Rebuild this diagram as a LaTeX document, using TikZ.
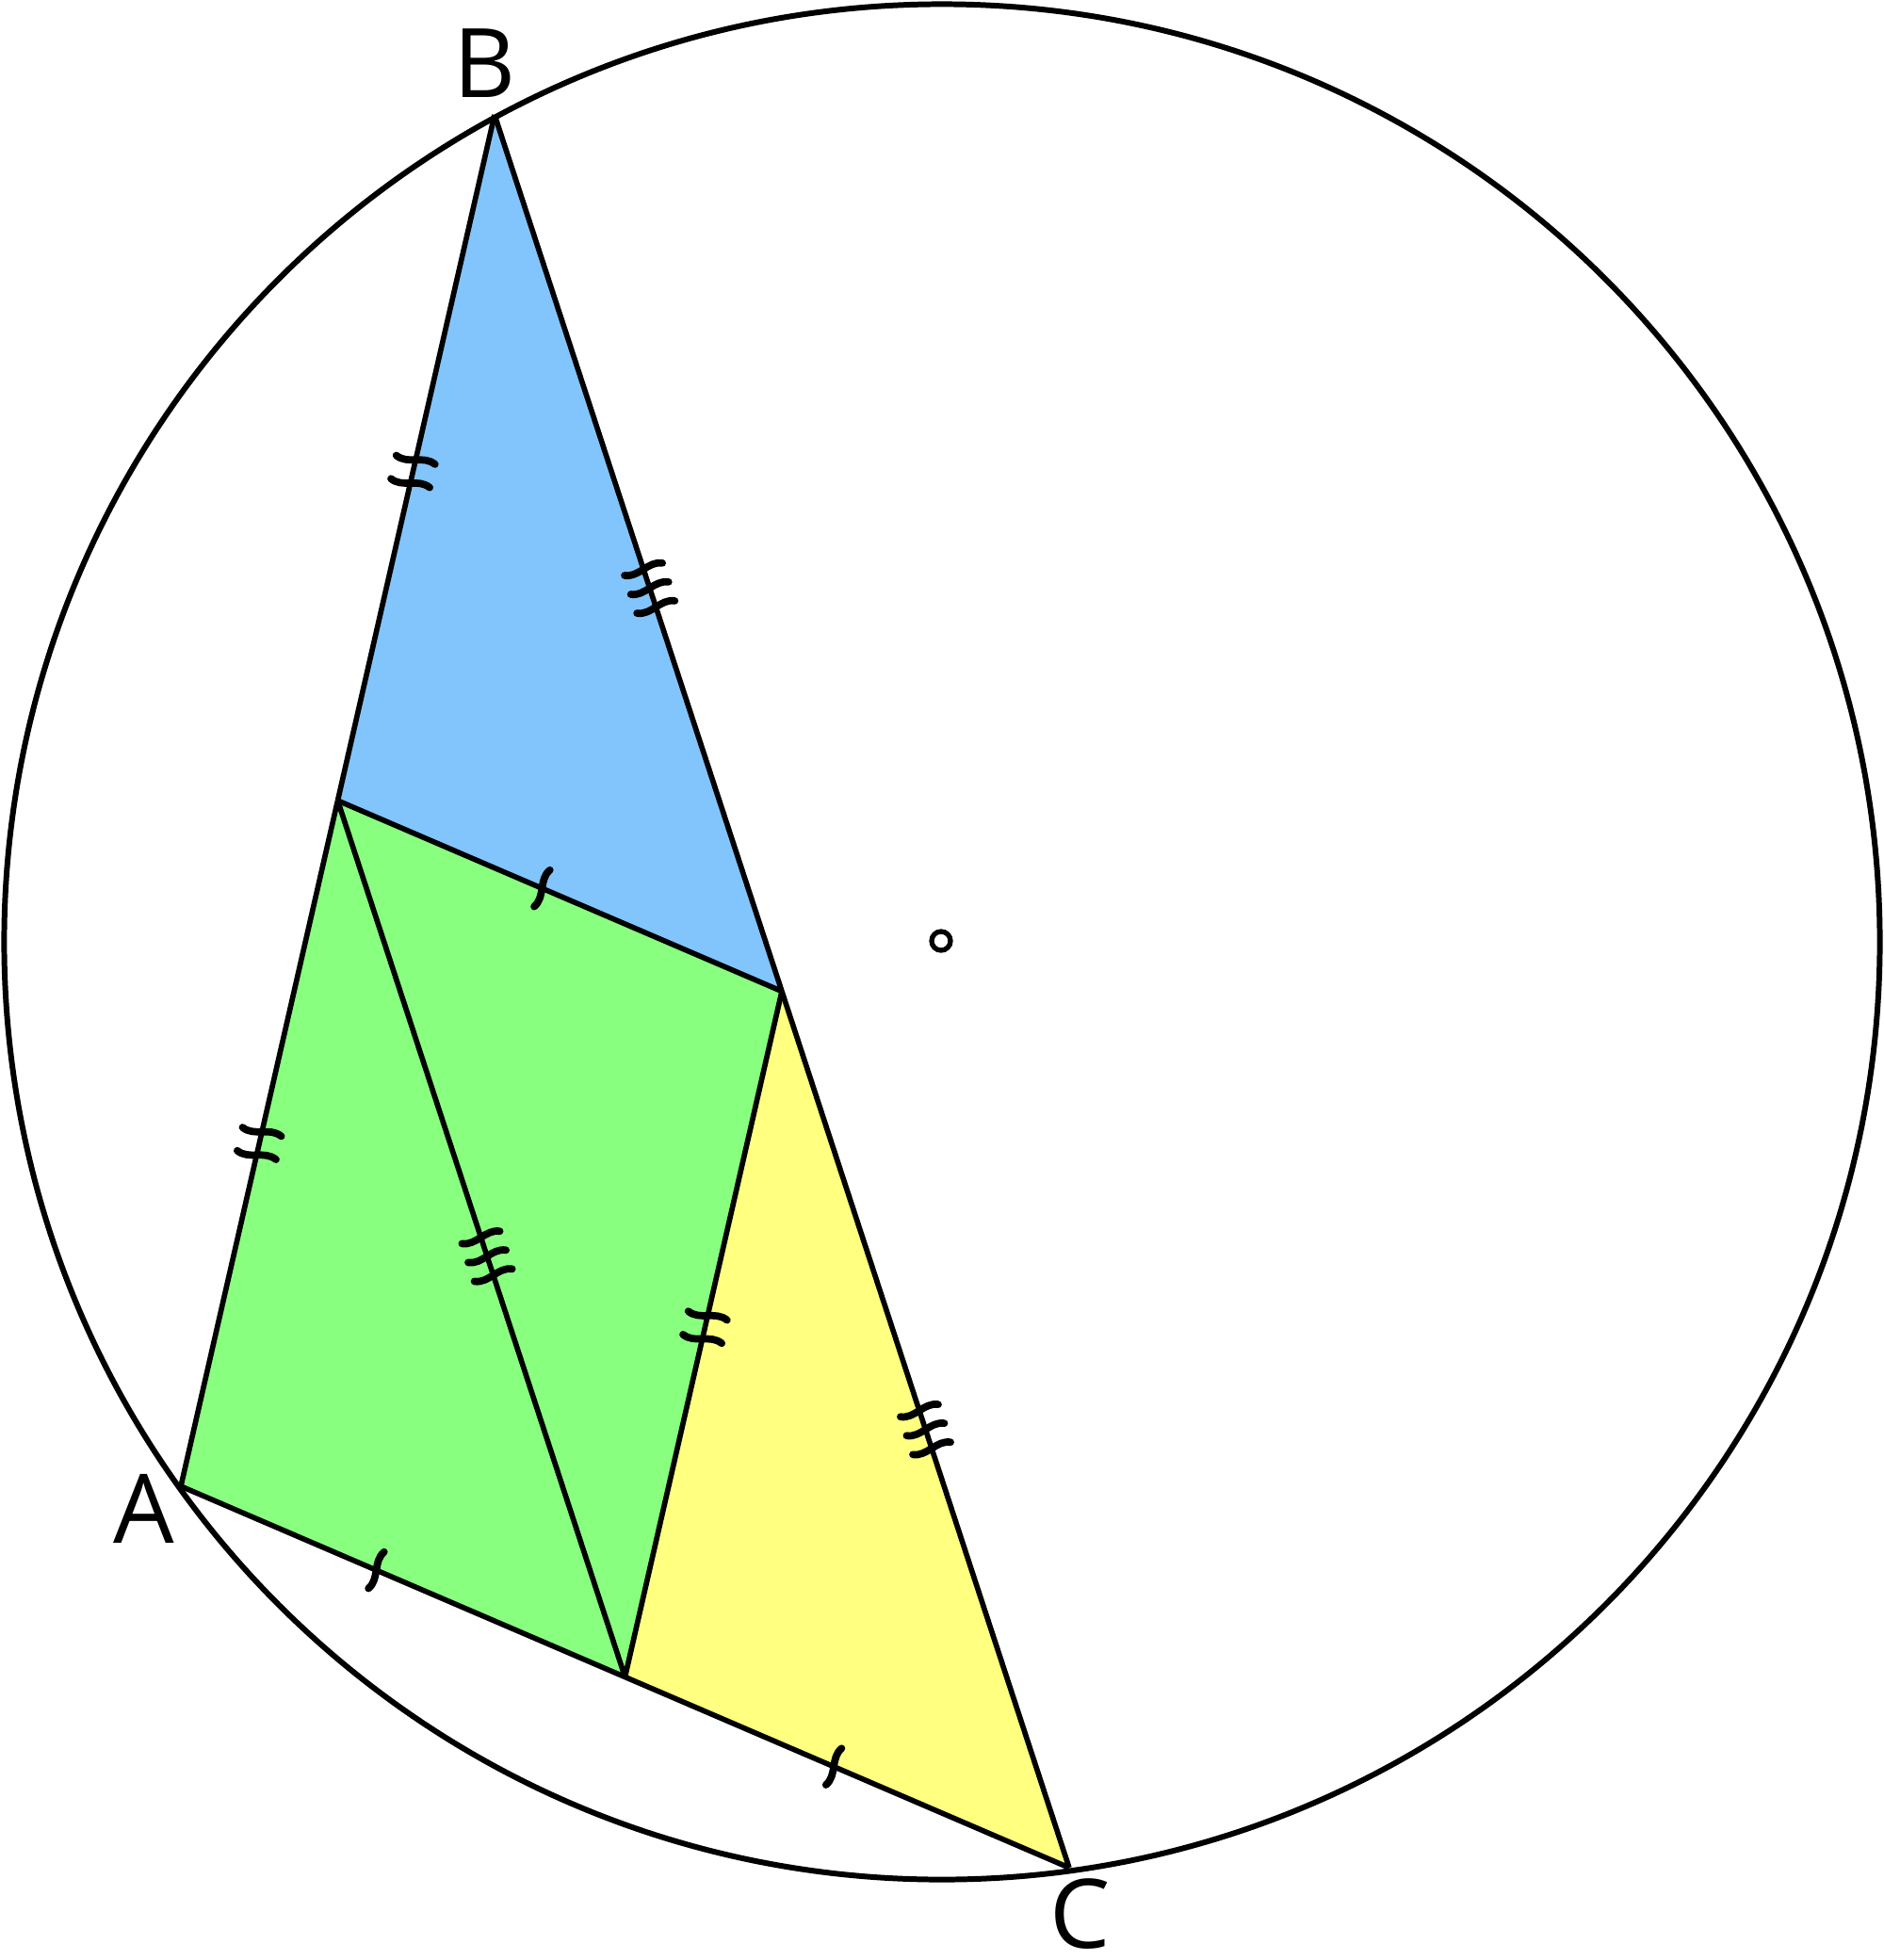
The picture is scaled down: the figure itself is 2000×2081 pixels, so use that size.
\documentclass[tikz,border=0pt]{standalone}
\usepackage{fontspec}
\setmainfont{Open Sans}
\usetikzlibrary{calc,decorations.markings}

\definecolor{skyblue}{RGB}{130,197,252}
\definecolor{lightgreen}{RGB}{137,255,128}
\definecolor{lightyellow}{RGB}{255,255,128}

% one wavy tick, shifted along the side
\newcommand{\wtick}[1]{\draw[tickmark,xshift=#1]
  (0pt,-6pt) .. controls (2pt,-2pt) and (-2pt,2pt) .. (0pt,6pt);}

\tikzset{
  tickmark/.style={line width=2.2pt,line cap=round},
  side/.style={line width=1.6pt,line join=round},
  onetick/.style={postaction={decorate,decoration={markings,
      mark=at position #1 with {\wtick{0pt}}}}},
  onetick/.default=0.5,
  twoticks/.style={postaction={decorate,decoration={markings,
      mark=at position #1 with {\wtick{-3.6pt}\wtick{3.6pt}}}}},
  twoticks/.default=0.5,
  threeticks/.style={postaction={decorate,decoration={markings,
      mark=at position #1 with {\wtick{-6pt}\wtick{0pt}\wtick{6pt}}}}},
  threeticks/.default=0.5,
  vlabel/.style={inner sep=0pt,font=\fontsize{29}{30}\selectfont}
}

\begin{document}
\begin{tikzpicture}[x=0.01cm,y=-0.01cm]
  \useasboundingbox (0,0) rectangle (2000,2081);

  % circumcircle and its centre ---------------------------------------------
  \coordinate (O) at (1000,1000);
  \draw[line width=1.7pt] (O) circle[radius=9.95cm];
  \draw[line width=1.5pt] (999,999) circle[radius=0.1cm];

  % vertices and midpoints ----------------------------------------------------
  \coordinate (A) at (192,1578);
  \coordinate (B) at (525,122);
  \coordinate (C) at (1135,1983);
  \coordinate (Mab) at ($(A)!0.5!(B)$);
  \coordinate (Mbc) at ($(B)!0.5!(C)$);
  \coordinate (Mac) at ($(A)!0.5!(C)$);

  % coloured pieces -----------------------------------------------------------
  \fill[skyblue] (B) -- (Mab) -- (Mbc) -- cycle;
  \fill[lightgreen] (A) -- (Mab) -- (Mbc) -- (Mac) -- cycle;
  \fill[lightyellow] (Mbc) -- (Mac) -- (C) -- cycle;

  % sides of ABC --------------------------------------------------------------
  \draw[side,twoticks] (A) -- (Mab);
  \draw[side,twoticks=0.48] (Mab) -- (B);
  \draw[side,threeticks=0.54] (B) -- (Mbc);
  \draw[side,threeticks] (Mbc) -- (C);
  \draw[side,onetick=0.44] (A) -- (Mac);
  \draw[side,onetick=0.47] (Mac) -- (C);

  % medial triangle -----------------------------------------------------------
  \draw[side,onetick=0.46] (Mab) -- (Mbc);
  \draw[side,threeticks=0.52] (Mab) -- (Mac);
  \draw[side,twoticks=0.49] (Mbc) -- (Mac);

  % labels --------------------------------------------------------------------
  \node[vlabel] (lblA) at (153,1602) {A};
  \node[vlabel] (lblB) at (515,67) {B};
  \node[vlabel] (lblC) at (1147,2032) {C};
\end{tikzpicture}
\end{document}
